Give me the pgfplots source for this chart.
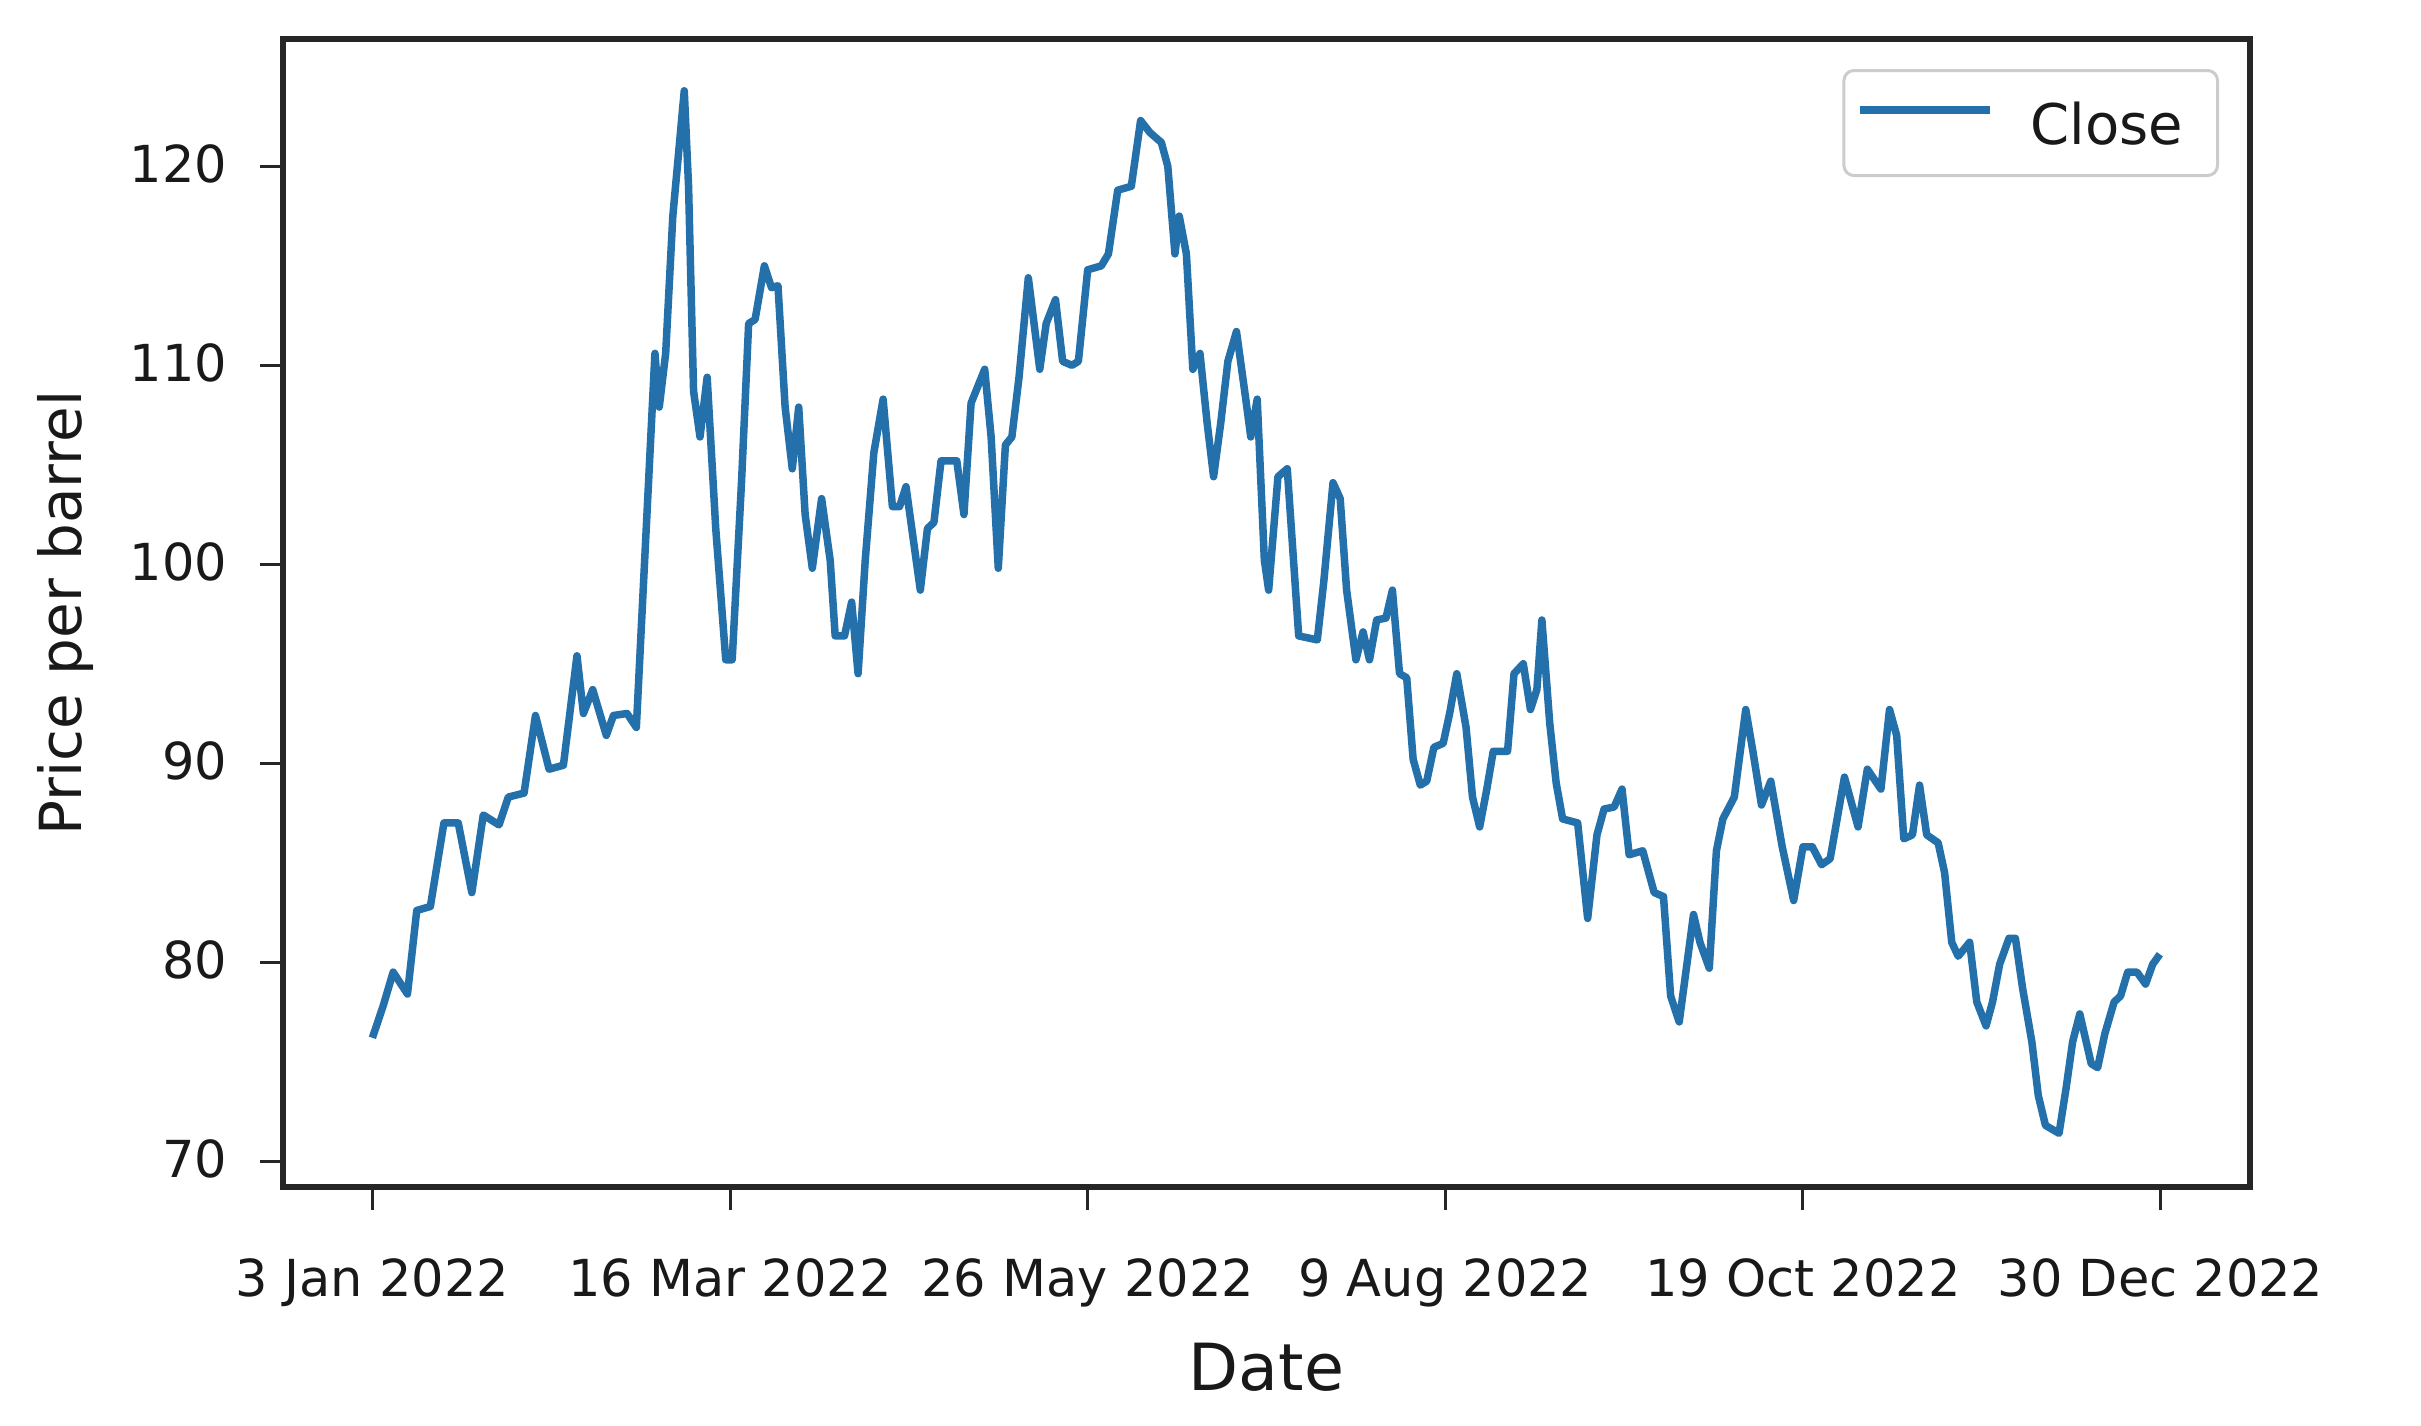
\documentclass[border=0pt]{standalone}
\usepackage{fontspec}
\setmainfont{DejaVu Sans}
\usepackage{pgfplots}
\pgfplotsset{compat=1.18}
\definecolor{tabblue}{RGB}{36,112,170}
\begin{document}
\begin{tikzpicture}
\path[use as bounding box] (-56.6pt,-47.6pt) rectangle (427.6pt,237.4pt);
\begin{axis}[
  name=ax,
  scale only axis,
  width=393.4pt, height=229.6pt,
  xmin=-12.5, xmax=262.5,
  ymin=68.7, ymax=126.4,
  xtick={0,50,100,150,200,250},
  xticklabels={3 Jan 2022,16 Mar 2022,26 May 2022,9 Aug 2022,19 Oct 2022,30 Dec 2022},
  ytick={70,80,90,100,110,120},
  /pgf/number format/assume math mode=true,
  tick align=outside,
  xtick pos=left, ytick pos=left,
  major tick length=4.5pt,
  tick style={line width=0.6pt, color=black!85},
  axis line style={line width=1.2pt, color=black!85},
  ticklabel style={font=\fontsize{10.2}{12}\selectfont, color=black!90, inner sep=0pt},
  xticklabel style={anchor=north, yshift=-9.7pt},
  yticklabel style={anchor=east, xshift=-6.5pt, yshift=0.5pt},
  xlabel={Date},
  ylabel={Price per barrel},
  xlabel style={font=\fontsize{13}{15}\selectfont, color=black!90, at={(axis description cs:0.5,0)}, anchor=base, yshift=-40.6pt},
  ylabel style={font=\fontsize{11.6}{14}\selectfont, color=black!90, at={(axis description cs:0,0.5)}, anchor=center, yshift=43.5pt},
  legend style={at={(1,1)}, anchor=north east, xshift=-6.2pt, yshift=-6pt,
    draw=black!20, line width=0.6pt, rounded corners=2pt,
    font=\fontsize{11.2}{13}\selectfont, text=black!90,
    inner xsep=2.4pt, inner ysep=6.3pt, column sep=7.4pt,
    nodes={inner sep=0pt, text height=8.4pt, text depth=0pt}},
  legend image code/.code={\draw[#1] (0pt,2.6pt) -- (26pt,2.6pt);},
]
\addplot[tabblue, line width=1.5pt, line join=round] coordinates {
(0,76.2) (1.5,77.8) (2.9,79.5) (4.9,78.4) (6.2,82.6) (8.1,82.8) (10,87.0) (12,87.0)
(13.9,83.5) (15.5,87.4) (17.7,86.9) (19,88.3) (21.2,88.5) (22.8,92.4) (24.7,89.7)
(26.7,89.9) (28.6,95.4) (29.5,92.5) (30.8,93.7) (32.7,91.4) (33.7,92.4) (35.6,92.5)
(36.9,91.8) (39.5,110.6) (40.1,107.9) (41,110.6) (42,117.5) (43.6,123.8) (44.2,119)
(44.9,108.7) (45.8,106.4) (46.8,109.4) (48,101.8) (49.4,95.2) (50.3,95.2) (51.6,104.1)
(52.6,112.1) (53.5,112.3) (54.8,115) (55.8,113.9) (56.7,114) (57.7,107.9) (58.7,104.8)
(59.6,107.9) (60.5,102.5) (61.5,99.8) (62.8,103.3) (64,100.2) (64.7,96.4) (66,96.4)
(67,98.1) (67.9,94.5) (68.9,100.2) (70.1,105.6) (71.4,108.3) (72.7,102.9) (73.7,102.9)
(74.6,103.9) (76.6,98.7) (77.6,101.8) (78.5,102.1) (79.5,105.2) (81.7,105.2) (82.7,102.5)
(83.7,108.1) (85.6,109.8) (86.5,106.4) (87.5,99.8) (88.5,106) (89.4,106.4) (90.4,109.4)
(91.7,114.4) (93.3,109.8) (94.2,112.1) (95.5,113.3) (96.5,110.2) (97.8,110) (98.7,110.2)
(100,114.8) (101.9,115) (102.9,115.6) (104.2,118.8) (106.1,119.0) (107.4,122.3)
(108.7,121.7) (110.3,121.2) (111.2,120) (112.2,115.6) (112.8,117.5) (113.8,115.6)
(114.7,109.8) (115.7,110.6) (116.7,107.1) (117.6,104.4) (118.6,107.1) (119.6,110.2)
(120.8,111.7) (122.1,108.3) (122.8,106.4) (123.7,108.3) (124.7,100.2) (125.3,98.7)
(126.6,104.4) (127.9,104.8) (129.5,96.4) (132.1,96.2) (133,99.1) (134.3,104.1)
(135.3,103.3) (136.2,98.7) (137.5,95.2) (138.5,96.6) (139.4,95.2) (140.4,97.2)
(141.7,97.3) (142.6,98.7) (143.6,94.5) (144.6,94.3) (145.5,90.2) (146.5,88.9)
(147.4,89.1) (148.4,90.8) (149.7,91) (150.6,92.5) (151.6,94.5) (152.9,91.8) (153.8,88.3)
(154.8,86.8) (155.8,88.7) (156.7,90.6) (158.7,90.6) (159.6,94.5) (160.9,95.0) (161.9,92.7)
(162.8,93.7) (163.5,97.2) (164.6,92) (165.5,89) (166.4,87.2) (168.5,87.0) (169.9,82.2)
(171.2,86.4) (172.2,87.7) (173.6,87.8) (174.7,88.7) (175.7,85.4) (177.6,85.6) (179.2,83.5)
(180.5,83.3) (181.5,78.3) (182.7,77.0) (183.7,79.7) (184.7,82.4) (185.6,81.0) (186.9,79.7)
(187.9,85.6) (188.8,87.2) (190.4,88.3) (192,92.7) (193,90.6) (194.2,87.9) (195.5,89.1)
(197.1,85.8) (198.7,83.1) (200,85.8) (201.3,85.8) (202.6,84.9) (203.8,85.2) (205.8,89.3)
(207.7,86.8) (209,89.7) (210.9,88.7) (212.1,92.7) (213.1,91.4) (214.1,86.2) (215.3,86.4)
(216.3,88.9) (217.3,86.4) (218.9,86.0) (219.8,84.5) (220.8,81.0) (221.7,80.3) (223.3,81.0)
(224.3,78.0) (225.6,76.8) (226.5,78.0) (227.5,79.9) (228.8,81.2) (229.7,81.2) (230.7,78.7)
(232,76.0) (232.9,73.3) (233.9,71.8) (235.8,71.4) (236.8,73.7) (237.7,76.0) (238.7,77.4)
(240.3,74.9) (241.2,74.7) (242.2,76.4) (243.5,78.0) (244.4,78.3) (245.4,79.5) (246.7,79.5)
(247.9,78.9) (248.9,79.9) (249.9,80.4)
};
\addlegendentry{Close\kern4.5pt}
\end{axis}
\end{tikzpicture}
\end{document}
